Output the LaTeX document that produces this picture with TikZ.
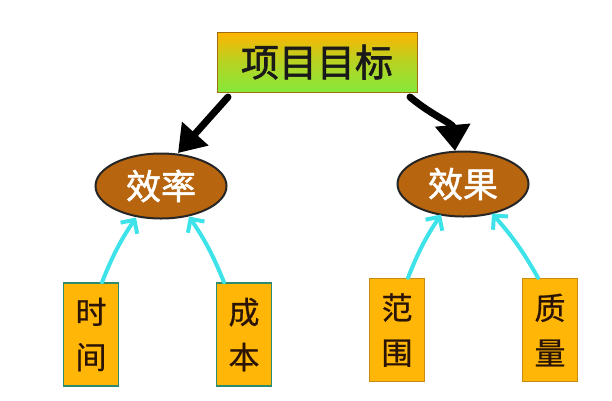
\documentclass[tikz,border=0pt]{standalone}
\usepackage{fontspec}
\setmainfont{Noto Sans CJK SC}
\newfontfamily\cjkb[FakeBold=1.5]{Noto Sans CJK SC}
\newfontfamily\cjkm[FakeBold=0.6]{Noto Sans CJK SC}
\usetikzlibrary{arrows.meta,shapes.geometric}
\definecolor{cyanarr}{HTML}{3EE3EA}
\definecolor{brownfill}{HTML}{B8650F}
\definecolor{boxfill}{HTML}{FFB606}
\definecolor{topor}{HTML}{FFB400}
\definecolor{topgr}{HTML}{86E83A}
\definecolor{tealb}{HTML}{2E8B6E}
\definecolor{orb}{HTML}{C88A10}
\definecolor{leaftext}{HTML}{2A1406}
\tikzset{
  goalbox/.style={draw=orb!80!black, line width=0.8pt, top color=topor, bottom color=topgr, middle color=topgr!60!topor,
    minimum width=200pt, minimum height=60pt, inner sep=0pt, font=\fontsize{38}{40}\selectfont\cjkb, text=black!90},
  oval/.style={ellipse, draw=black!85, line width=2pt, fill=brownfill, text=white,
    minimum width=131pt, minimum height=65pt, inner sep=0pt, font=\fontsize{35}{36}\selectfont\cjkb},
  leafbox/.style={fill=boxfill, line width=1.5pt, minimum width=55pt, minimum height=103pt, inner sep=0pt,
    align=center, font=\fontsize{31}{45}\selectfont\cjkm, text=leaftext},
  blackarr/.style={line width=7pt, -{Triangle[length=26pt,width=34pt]}, line cap=round},
  cyanlink/.style={line width=4pt, cyanarr, -{Straight Barb[length=10pt,width=20pt,line width=4pt]}, line cap=round},
}
\begin{document}
\begin{tikzpicture}[x=1pt,y=-1pt]
\useasboundingbox[fill=white] (0,0) rectangle (612,400);
\node[goalbox] (goal) at (317,62) {项目目标};
\node[oval] (eff) at (161,186) {效率};
\node[oval] (res) at (463,184) {效果};
\node[leafbox, draw=tealb] (time) at (91,334.5) {时\\间};
\node[leafbox, draw=tealb] (cost) at (244,334.5) {成\\本};
\node[leafbox, draw=orb] (scope) at (397,330) {范\\围};
\node[leafbox, draw=orb] (qual) at (550,330) {质\\量};
\coordinate (g1) at (228,97);
\coordinate (g2) at (410,97);
\coordinate (t1) at (178,153);
\coordinate (t2) at (455,151);
\draw[blackarr] (g1) -- (t1);
\draw[blackarr] (g2) to[out=-40,in=95] (t2);
\draw[cyanlink] ([xshift=11pt]time.north) to[bend left=6] ([xshift=-25pt,yshift=2pt]eff.south);
\draw[cyanlink] ([xshift=-20pt]cost.north) to[bend right=6] ([xshift=28pt,yshift=3pt]eff.south);
\draw[cyanlink] ([xshift=11pt]scope.north) to[bend left=6] ([xshift=-22pt,yshift=3pt]res.south);
\draw[cyanlink] ([xshift=-12pt]qual.north) to[bend right=6] ([xshift=29pt,yshift=4pt]res.south);
\end{tikzpicture}
\end{document}
